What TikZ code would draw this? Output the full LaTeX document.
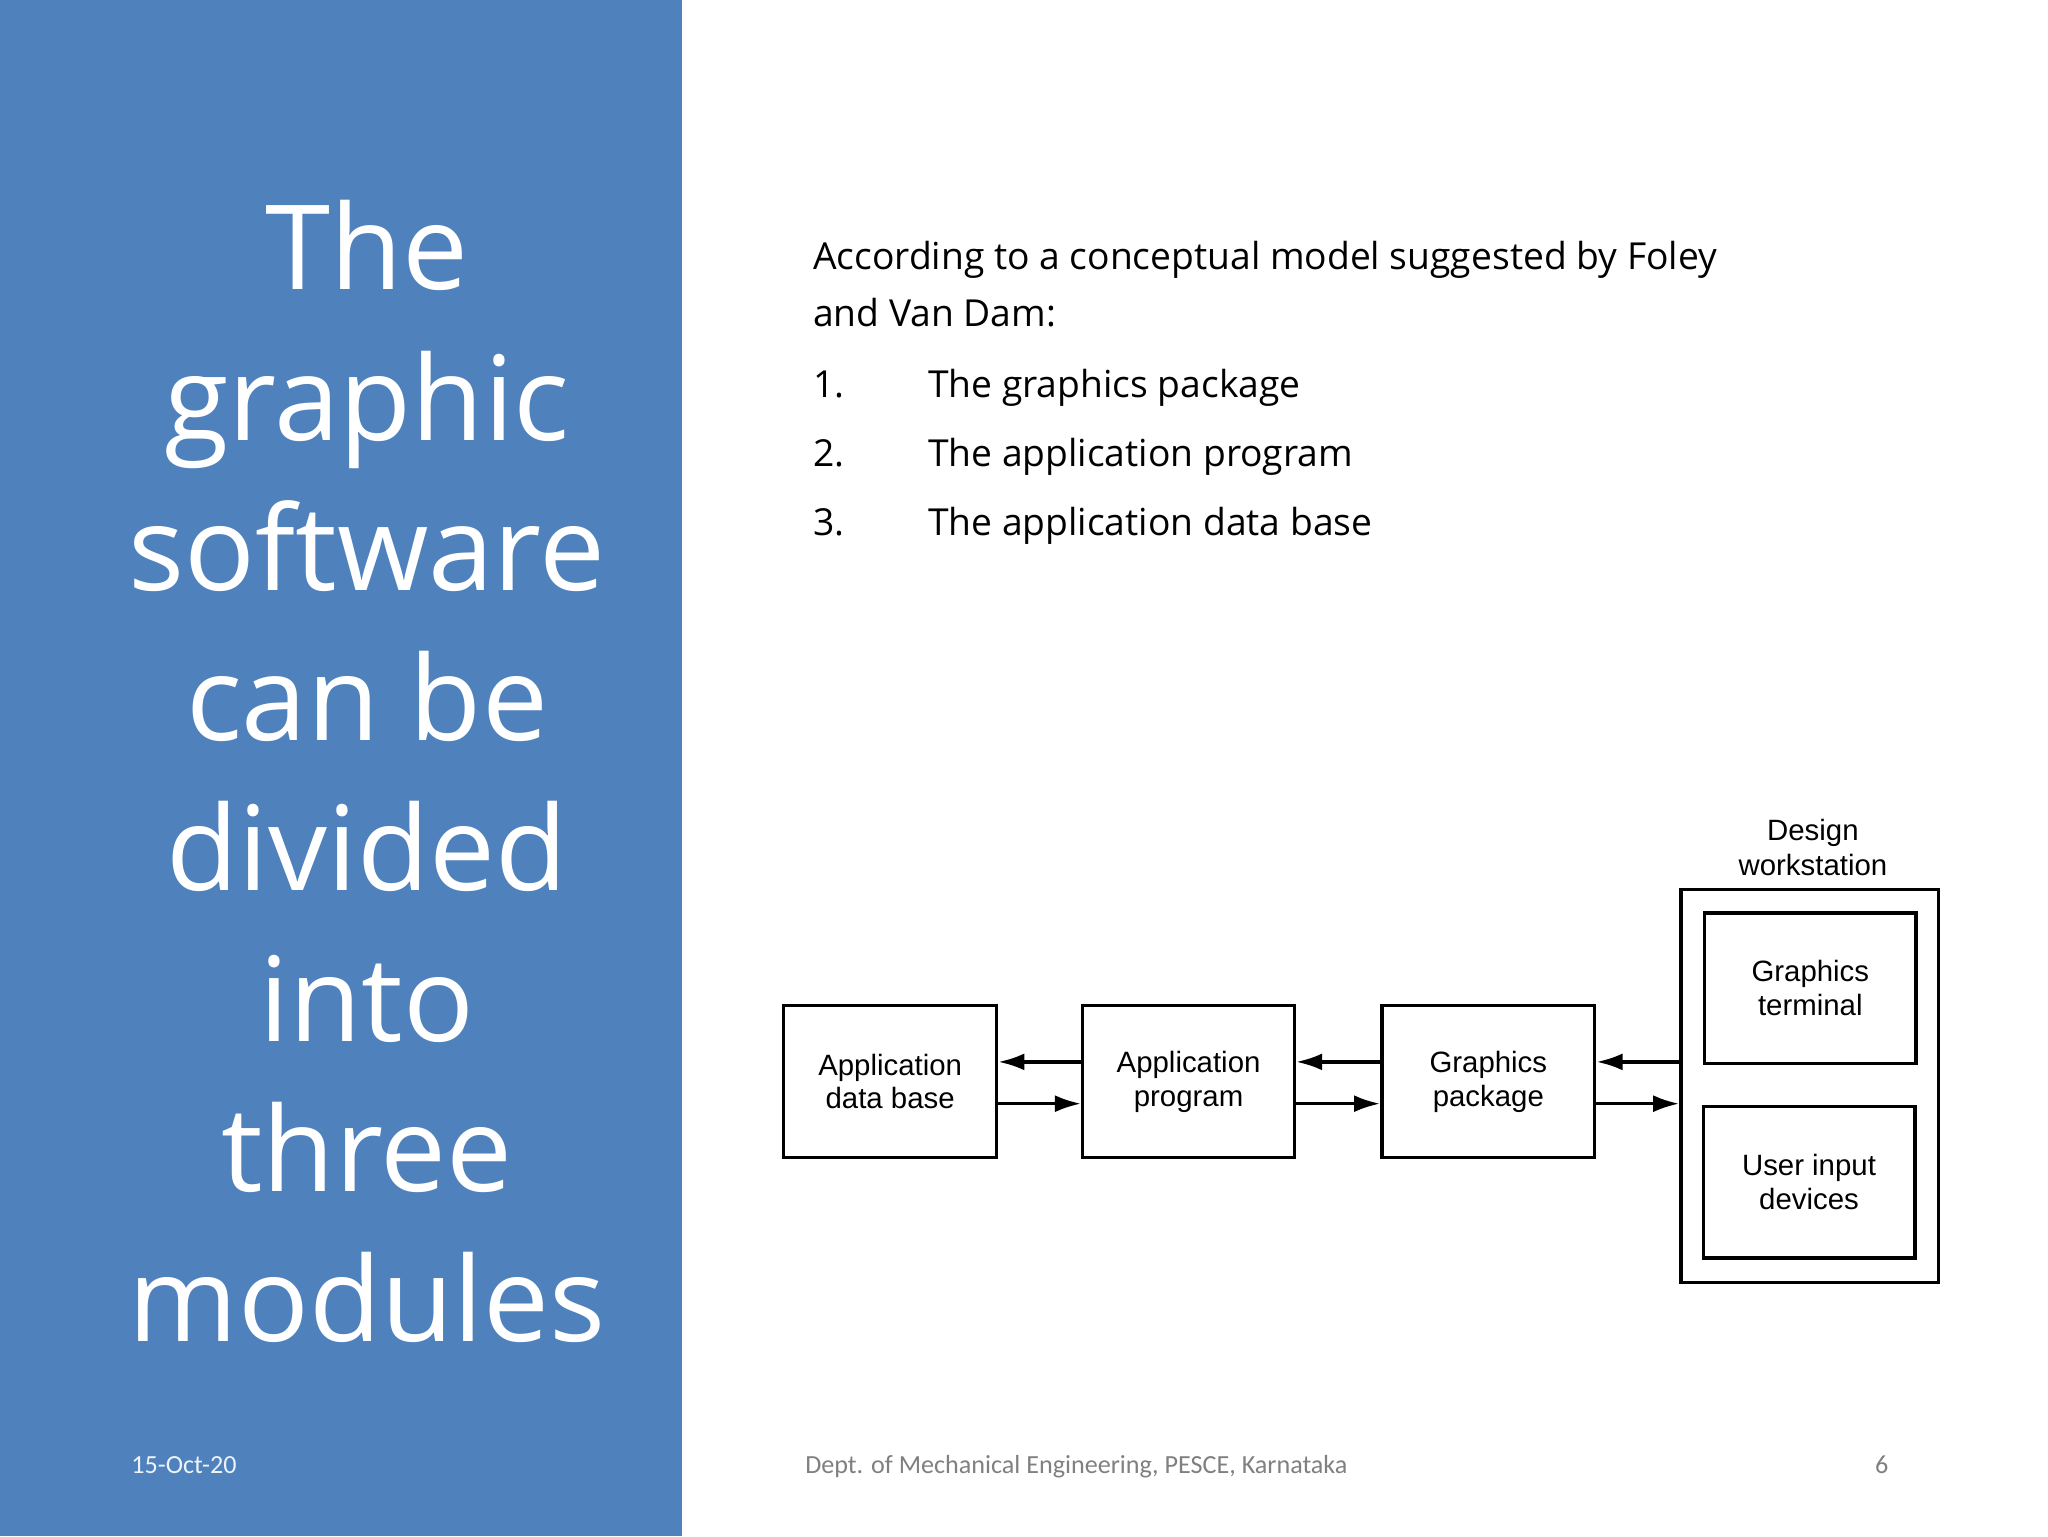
\documentclass[tikz,border=0pt]{standalone}
\usepackage{fontspec}
\setmainfont{Carlito}
\newfontfamily\diagfont{Liberation Sans}
\newfontfamily\osfont{Open Sans}
\usetikzlibrary{arrows.meta}
\definecolor{panel}{HTML}{4F81BD}
\begin{document}
\begin{tikzpicture}[x=1pt,y=-1pt,
  title/.style={font=\osfont\fontsize{90}{90}\selectfont,text=white,anchor=base},
  body/.style={font=\osfont\fontsize{28.5}{28.5}\selectfont,anchor=base west},
  foot/.style={font=\fontsize{20}{20}\selectfont,anchor=base west},
  box/.style={draw,line width=2.6pt,font=\diagfont\fontsize{22.5}{26}\selectfont,align=center,inner sep=0pt},
  arr/.style={line width=2.6pt,-{Latex[length=20pt,width=13pt]}}]
\useasboundingbox (0,0) rectangle (1568,1176);
\fill[white] (0,0) rectangle (1568,1176);
\fill[panel] (0,0) rectangle (522,1176);
\foreach \t/\y in {The/222,graphic/337,software/452,can be/567,divided/682,into/797,three/912,modules/1027}
  \node[title] at (281,\y) {\t};
\node[body] at (619,206) {According to a conceptual model suggested by Foley};
\node[body] at (619,250) {and Van Dam:};
\foreach \n/\t/\y in {1./The graphics package/304,2./The application program/357,3./The application data base/410}{
  \node[body] at (619,\y) {\n};
  \node[body] at (707,\y) {\t};}
\node[foot,text=white!90!panel] at (97,1128) {15-Oct-20};
\node[foot,text=gray] at (613,1128) {Dept. of Mechanical Engineering, PESCE, Karnataka};
\node[foot,text=gray] at (1432,1128) {6};
% diagram
\node[box,minimum width=163pt,minimum height=116pt] (db) at (681.5,828) {Application\\data base};
\node[box,minimum width=162pt,minimum height=116pt] (ap) at (910,828) {Application\\program};
\node[box,minimum width=163pt,minimum height=116pt] (gp) at (1139.5,828) {Graphics\\package};
\node[box,minimum width=197pt,minimum height=301pt] (ws) at (1385.5,831.5) {};
\node[box,minimum width=162pt,minimum height=115pt] (gt) at (1386,756.5) {Graphics\\terminal};
\node[box,minimum width=162pt,minimum height=116pt] (ui) at (1385,905) {User input\\devices};
\node[font=\diagfont\fontsize{22.5}{27}\selectfont,align=center,anchor=south] (dw) at (1388,674) {Design\\workstation};
\draw[arr] (ap.west |- 0,813) -- (db.east |- 0,813);
\draw[arr] (db.east |- 0,845) -- (ap.west |- 0,845);
\draw[arr] (gp.west |- 0,813) -- (ap.east |- 0,813);
\draw[arr] (ap.east |- 0,845) -- (gp.west |- 0,845);
\draw[arr] (ws.west |- 0,813) -- (gp.east |- 0,813);
\draw[arr] (gp.east |- 0,845) -- (ws.west |- 0,845);
\end{tikzpicture}
\end{document}
